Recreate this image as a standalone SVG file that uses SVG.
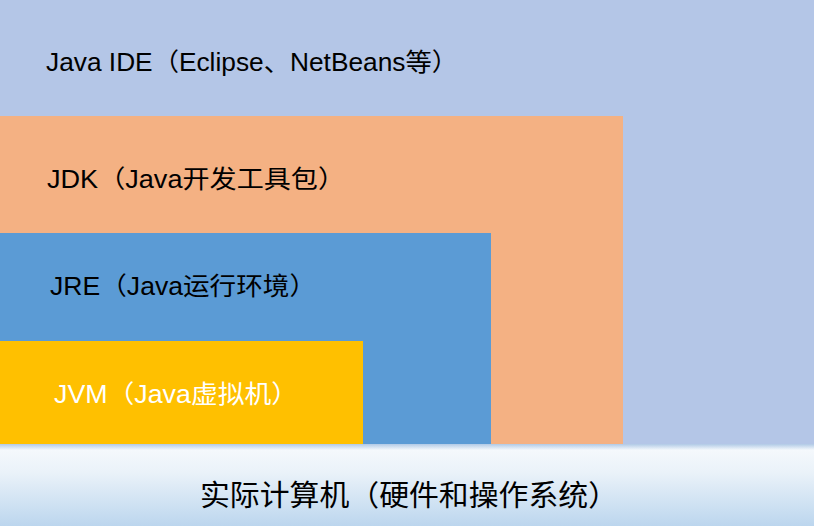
<svg xmlns="http://www.w3.org/2000/svg" width="814" height="526" viewBox="0 0 814 526">
<defs>
<linearGradient id="base" x1="0" y1="0" x2="0" y2="1">
<stop offset="0" stop-color="#F7FAFD"/>
<stop offset="0.35" stop-color="#EAF2F9"/>
<stop offset="1" stop-color="#BCD6EE"/>
</linearGradient>
<linearGradient id="shadow" x1="0" y1="0" x2="0" y2="1">
<stop offset="0" stop-color="#9FBEE0" stop-opacity="0.8"/>
<stop offset="1" stop-color="#9FBEE0" stop-opacity="0"/>
</linearGradient>
</defs>
<style>
.t{font-family:"Liberation Sans","Noto Sans CJK SC",sans-serif;font-size:25px;fill:#000}
.w{fill:#fff}
.b{font-size:29px}
</style>
<g id="ide">
<rect x="0" y="0" width="814" height="444" fill="#B4C6E7"/>
<text class="t" x="46" y="71" textLength="412" lengthAdjust="spacingAndGlyphs">Java IDE（Eclipse、NetBeans等）</text>
</g>
<g id="jdk">
<rect x="0" y="116" width="623" height="328" fill="#F4B183"/>
<text class="t" x="47" y="188" textLength="298" lengthAdjust="spacingAndGlyphs">JDK（Java开发工具包）</text>
</g>
<g id="jre">
<rect x="0" y="233" width="491" height="211" fill="#5B9BD5"/>
<text class="t" x="50" y="295" textLength="266" lengthAdjust="spacingAndGlyphs">JRE（Java运行环境）</text>
</g>
<g id="jvm">
<rect x="0" y="341" width="363" height="103" fill="#FFC000"/>
<text class="t w" x="54" y="403" textLength="244" lengthAdjust="spacingAndGlyphs">JVM（Java虚拟机）</text>
</g>
<g id="computer">
<rect x="0" y="444" width="814" height="82" fill="url(#base)"/>
<rect x="0" y="444" width="814" height="6" fill="url(#shadow)"/>
<text class="t b" x="200" y="506" textLength="418" lengthAdjust="spacingAndGlyphs">实际计算机（硬件和操作系统）</text>
</g>
<g id="connectors"/>
</svg>
